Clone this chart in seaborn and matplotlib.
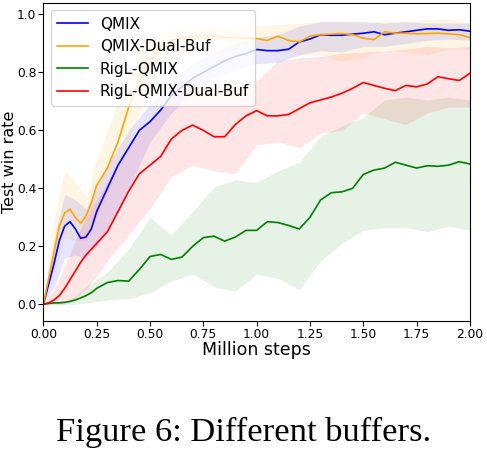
import matplotlib
matplotlib.use("Agg")
import matplotlib.pyplot as plt
import pandas as pd
import seaborn as sns

# mean curves (million steps vs test win rate)
steps = [0, 0.025, 0.05, 0.075, 0.1, 0.125, 0.15, 0.175, 0.2, 0.225, 0.25,
         0.3, 0.35, 0.4, 0.45, 0.5, 0.55, 0.6, 0.65, 0.7, 0.75, 0.8, 0.85,
         0.9, 0.95, 1.0, 1.05, 1.1, 1.15, 1.2, 1.25, 1.3, 1.35, 1.4, 1.45,
         1.5, 1.55, 1.6, 1.65, 1.7, 1.75, 1.8, 1.85, 1.9, 1.95, 2.0]

qmix = [0, 0.07, 0.14, 0.22, 0.27, 0.285, 0.26, 0.228, 0.232, 0.26, 0.32,
        0.40, 0.48, 0.54, 0.60, 0.63, 0.67, 0.72, 0.75, 0.78, 0.80, 0.82, 0.84,
        0.855, 0.865, 0.879, 0.875, 0.875, 0.88, 0.905, 0.915, 0.93, 0.928, 0.928, 0.932,
        0.935, 0.94, 0.93, 0.935, 0.94, 0.945, 0.95, 0.95, 0.945, 0.947, 0.942]

qmix_dual = [0, 0.09, 0.18, 0.27, 0.315, 0.328, 0.30, 0.28, 0.305, 0.35, 0.41,
             0.47, 0.56, 0.68, 0.77, 0.84, 0.89, 0.91, 0.918, 0.925, 0.927, 0.925, 0.92,
             0.92, 0.918, 0.917, 0.91, 0.925, 0.91, 0.905, 0.925, 0.93, 0.932, 0.934, 0.93,
             0.918, 0.913, 0.94, 0.935, 0.935, 0.933, 0.934, 0.935, 0.933, 0.93, 0.92]

rigl = [0, 0.003, 0.005, 0.005, 0.007, 0.01, 0.015, 0.022, 0.03, 0.04, 0.055,
        0.075, 0.082, 0.08, 0.12, 0.165, 0.172, 0.155, 0.163, 0.20, 0.23, 0.235, 0.218,
        0.232, 0.255, 0.255, 0.285, 0.282, 0.272, 0.26, 0.30, 0.36, 0.385, 0.388, 0.40,
        0.448, 0.463, 0.47, 0.49, 0.48, 0.47, 0.478, 0.476, 0.48, 0.492, 0.484]

rigl_dual = [0, 0.005, 0.015, 0.03, 0.055, 0.085, 0.115, 0.145, 0.17, 0.19, 0.21,
             0.25, 0.32, 0.39, 0.45, 0.48, 0.51, 0.57, 0.60, 0.618, 0.60, 0.578, 0.578,
             0.62, 0.65, 0.668, 0.65, 0.65, 0.655, 0.675, 0.695, 0.705, 0.715, 0.728, 0.745,
             0.765, 0.755, 0.745, 0.737, 0.755, 0.75, 0.76, 0.785, 0.778, 0.772, 0.797]

# shaded spread around each curve
band_steps = [0, 0.05, 0.1, 0.15, 0.2, 0.25, 0.3, 0.4, 0.5, 0.6, 0.7, 0.8,
              0.9, 1.0, 1.1, 1.2, 1.3, 1.4, 1.5, 1.6, 1.7, 1.8, 1.9, 2.0]

qmix_lo = [0, 0.06, 0.16, 0.17, 0.16, 0.20, 0.26, 0.40, 0.56, 0.66, 0.73, 0.78,
           0.81, 0.83, 0.835, 0.86, 0.875, 0.87, 0.89, 0.89, 0.90, 0.91, 0.915, 0.91]
qmix_hi = [0, 0.22, 0.38, 0.36, 0.33, 0.40, 0.48, 0.60, 0.69, 0.77, 0.83, 0.87,
           0.90, 0.92, 0.93, 0.96, 0.975, 0.975, 0.975, 0.97, 0.975, 0.97, 0.97, 0.97]

qmix_dual_lo = [0, 0.10, 0.23, 0.22, 0.22, 0.30, 0.38, 0.56, 0.75, 0.86, 0.88, 0.88,
                0.88, 0.89, 0.88, 0.86, 0.86, 0.84, 0.85, 0.88, 0.87, 0.86, 0.88, 0.88]
qmix_dual_hi = [0, 0.30, 0.46, 0.42, 0.37, 0.50, 0.60, 0.79, 0.92, 0.95, 0.96, 0.955,
                0.95, 0.96, 0.965, 0.97, 0.975, 0.975, 0.97, 0.975, 0.975, 0.98, 0.985, 0.97]

rigl_lo = [0, 0, 0, 0, 0.005, 0.01, 0.015, 0.02, 0.04, 0.08, 0.105, 0.06,
           0.045, 0.105, 0.09, 0.05, 0.15, 0.21, 0.255, 0.265, 0.265, 0.25, 0.27, 0.256]
rigl_hi = [0, 0.005, 0.01, 0.03, 0.06, 0.085, 0.11, 0.19, 0.30, 0.24, 0.32, 0.405,
           0.43, 0.42, 0.46, 0.49, 0.58, 0.615, 0.645, 0.705, 0.715, 0.705, 0.715, 0.705]

rigl_dual_lo = [0, 0, 0, 0.02, 0.05, 0.10, 0.15, 0.24, 0.33, 0.44, 0.48, 0.46,
                0.45, 0.55, 0.56, 0.54, 0.59, 0.60, 0.66, 0.64, 0.62, 0.66, 0.68, 0.68]
rigl_dual_hi = [0, 0.05, 0.13, 0.22, 0.30, 0.36, 0.42, 0.55, 0.64, 0.71, 0.76, 0.73,
                0.76, 0.77, 0.84, 0.85, 0.855, 0.865, 0.87, 0.875, 0.88, 0.89, 0.885, 0.89]

names = ["QMIX", "QMIX-Dual-Buf", "RigL-QMIX", "RigL-QMIX-Dual-Buf"]
colors = {"QMIX": "blue", "QMIX-Dual-Buf": "orange",
          "RigL-QMIX": "green", "RigL-QMIX-Dual-Buf": "red"}
means = [qmix, qmix_dual, rigl, rigl_dual]
bands = [(qmix_lo, qmix_hi), (qmix_dual_lo, qmix_dual_hi),
         (rigl_lo, rigl_hi), (rigl_dual_lo, rigl_dual_hi)]

df = pd.concat([pd.DataFrame({"steps": steps, "win": m, "method": n})
                for n, m in zip(names, means)], ignore_index=True)

fig = plt.figure(figsize=(4.87, 4.65), dpi=100)
ax = fig.add_axes([0.089, 0.31, 0.876, 0.684])

for n, (lo, hi) in zip(names, bands):
    ax.fill_between(band_steps, lo, hi, color=colors[n], alpha=0.1, linewidth=0)

sns.lineplot(data=df, x="steps", y="win", hue="method", hue_order=names,
             palette=colors, linewidth=1.2, ax=ax)

handles, labels = ax.get_legend_handles_labels()
ax.legend(handles, labels, loc="upper left", fontsize=11)

ax.set_xlim(0, 2.0)
ax.set_ylim(-0.057, 1.04)
ax.set_xticks([0, 0.25, 0.5, 0.75, 1.0, 1.25, 1.5, 1.75, 2.0])
ax.set_yticks([0, 0.2, 0.4, 0.6, 0.8, 1.0])
ax.tick_params(labelsize=8.8, pad=1.5)
ax.set_xlabel("Million steps", fontsize=12.5, labelpad=0)
ax.set_ylabel("Test win rate", fontsize=11.5)
ax.yaxis.set_label_coords(-0.062, 0.5)

fig.text(0.5, 1 - 432 / 465, "Figure 6: Different buffers.",
         family="Liberation Serif", fontsize=24.8, ha="center", va="center")

fig.savefig("out.png", dpi=100)
